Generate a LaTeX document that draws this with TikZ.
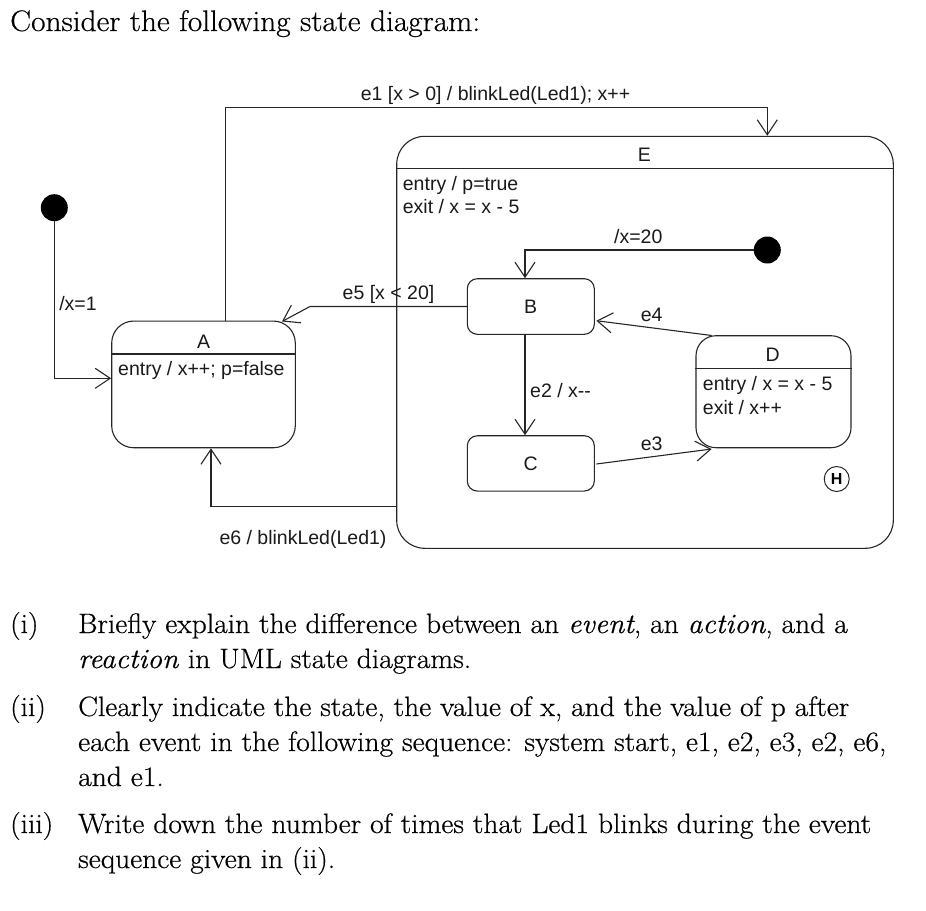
\documentclass[tikz,border=0pt]{standalone}
\usepackage{fontspec}
\setsansfont{Liberation Sans}
\newfontfamily\qfont{Latin Modern Roman}[FakeBold=0.5]
\usetikzlibrary{arrows.meta,calc}
\newcommand{\qs}[1]{\scalebox{1.055}[1]{#1}}
\begin{document}
\begin{tikzpicture}[x=1pt,y=-1pt,
  ln/.style={line width=1.1pt, draw=black!85},
  arr/.style={ln, -{Straight Barb[length=15pt,width=20pt,line width=1.1pt]}},
  st/.style={ln, rectangle, inner sep=0pt},
  lbl/.style={font=\sffamily\fontsize{19.5}{21}\selectfont, inner sep=0pt, text=black!90},
  q/.style={font=\qfont\fontsize{28}{30}\selectfont, anchor=base west, inner sep=0pt},
  dot/.style={circle, fill=black, inner sep=0pt, minimum size=27pt}]
\useasboundingbox (0,0) rectangle (926,910);
% title
\node[q, font=\qfont\fontsize{29.7}{32}\selectfont] (title) at (10,31) {\qs{Consider the following state diagram:}};
% states
\node[st, rounded corners=22pt, minimum width=183.6pt, minimum height=126.7pt] (A) at (203.5,384.4) {};
\node[st, rounded corners=28pt, minimum width=496.6pt, minimum height=412pt] (E) at (645,342.3) {};
\node[st, rounded corners=10pt, minimum width=127pt, minimum height=55.6pt] (B) at (530.8,306.5) {};
\node[st, rounded corners=10pt, minimum width=127pt, minimum height=55.3pt] (C) at (530.8,463.4) {};
\node[st, rounded corners=20pt, minimum width=155pt, minimum height=112pt] (D) at (773.5,391.7) {};
% dividers
\draw[ln] (A.west |- 0,354) -- (A.east |- 0,354);
\draw[ln] (E.west |- 0,168.7) -- (E.east |- 0,168.7);
\draw[ln] (D.west |- 0,368.7) -- (D.east |- 0,368.7);
% state texts
\node[lbl] (At) at (203.7,341.7) {A};
\node[lbl, anchor=west] (Ae) at (118,370.7) {entry / x++; p=false};
\node[lbl] (Et) at (644.3,155) {E};
\node[lbl, anchor=west] (Ee1) at (402.7,185.7) {entry / p=true};
\node[lbl, anchor=west] (Ee2) at (402.7,206.7) {exit / x = x - 5};
\node[lbl] (Bt) at (530.7,306.7) {B};
\node[lbl] (Ct) at (530.7,464) {C};
\node[lbl] (Dt) at (772.7,354.3) {D};
\node[lbl, anchor=west] (De1) at (702.7,385) {entry / x = x - 5};
\node[lbl, anchor=west] (De2) at (702.7,407.3) {exit / x++};
% pseudo states
\node[dot] (I1) at (54.3,207.7) {};
\node[dot] (I2) at (767.3,250) {};
\node[circle, ln, line width=1pt, minimum size=25pt, inner sep=0pt, font=\sffamily\bfseries\fontsize{16}{16}\selectfont] (H) at (836.7,479) {H};
% coordinates
\coordinate (e1c) at (500,107.7);
\coordinate (e5c) at (310,306.5);
\coordinate (a2) at (282,321.5);
\coordinate (e6c) at (211,506.7);
\coordinate (dtl) at (711.7,335.5);
\coordinate (dbl) at (711.7,449);
% transitions
\draw[arr] (I1) |- ([yshift=6.1pt]A.west);
\node[lbl] (l1) at (78,304) {/x=1};
\draw[arr] ([xshift=22.2pt]A.north) |- (e1c) -| ([xshift=122.3pt]E.north);
\node[lbl] (l2) at (495.5,95) {e1 [x > 0] / blinkLed(Led1); x++};
\draw[arr] (B.west) -- (e5c) -- (a2);
\node[lbl] (l3) at (388.5,294.3) {e5 [x < 20]};
\draw[arr] (I2) -| ([xshift=-5.8pt]B.north);
\node[lbl] (l4) at (638.3,236.7) {/x=20};
\draw[arr] (dtl) -- ([yshift=-14.2pt,xshift=1.5pt]B.east);
\node[lbl] (l5) at (651.7,315) {e4};
\draw[arr] ([xshift=-5.8pt]B.south) -- ([xshift=-5.8pt]C.north);
\node[lbl, anchor=west] (l6) at (530,390.7) {e2 / x-{}-};
\draw[arr] ([xshift=1.5pt,yshift=-0.6pt]C.east) -- (dbl);
\node[lbl] (l7) at (651.7,444) {e3};
\draw[arr] ([yshift=-164.4pt]E.west) -- (e6c) -- (e6c |- A.south);
\node[lbl] (l8) at (303,539.3) {e6 / blinkLed(Led1)};
% questions
\node[q] (q1n) at (10,633) {\qs{(i)}};
\node[q] (q1a) at (78,633) {\qs{Briefly explain the difference between an \textit{event}, an \textit{action}, and a}};
\node[q] (q1b) at (78,668) {\qs{\textit{reaction} in UML state diagrams.}};
\node[q] (q2n) at (10,716) {\qs{(ii)}};
\node[q] (q2a) at (78,716) {\qs{Clearly indicate the state, the value of x, and the value of p after}};
\node[q] (q2b) at (78,751) {\qs{each event in the following sequence: system start, e1, e2, e3, e2, e6,}};
\node[q] (q2c) at (78,786) {\qs{and e1.}};
\node[q] (q3n) at (10,833) {\qs{(iii)}};
\node[q] (q3a) at (78,833) {\qs{Write down the number of times that Led1 blinks during the event}};
\node[q] (q3b) at (78,868) {\qs{sequence given in (ii).}};
\end{tikzpicture}
\end{document}
